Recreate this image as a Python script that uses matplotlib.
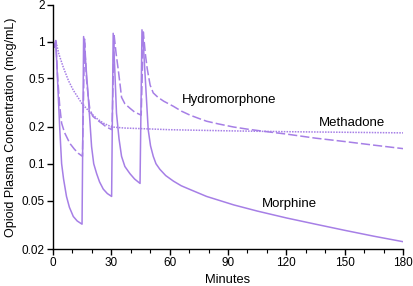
import matplotlib
matplotlib.use("Agg")
import matplotlib.pyplot as plt
from matplotlib.ticker import FixedLocator, NullFormatter, NullLocator

plt.rcParams["font.family"] = ["Liberation Sans", "DejaVu Sans"]

# ------------------------------------------------------------
# data (minutes, mcg/mL)
# ------------------------------------------------------------
morphine_t = [0.8, 1.5, 2.5, 3.5, 4.5, 5.5, 7, 8.5, 10.5, 12.5, 15.0,
              15.8, 16.8, 18.2, 19.9, 21, 22.5, 24, 25.9, 28, 30.2,
              31.0, 31.8, 32.7, 34, 35.3, 37, 39.6, 42, 44.8,
              45.8, 46.5, 47.5, 49, 50.2, 51.6, 53, 55, 58, 62, 66, 70, 79,
              93, 105, 120, 135, 150, 165, 180]
morphine_c = [0.9, 1.02, 0.45, 0.2, 0.1, 0.075, 0.054, 0.044, 0.037, 0.034, 0.032,
              1.1, 0.7, 0.35, 0.138, 0.1, 0.083, 0.071, 0.062, 0.057, 0.054,
              1.17, 0.6, 0.26, 0.16, 0.115, 0.095, 0.083, 0.075, 0.069,
              1.25, 0.95, 0.5, 0.19, 0.14, 0.115, 0.1, 0.09, 0.08, 0.072, 0.066, 0.062, 0.054,
              0.046, 0.041, 0.036, 0.032, 0.0285, 0.0255, 0.023]

hydro_t = [0.8, 1.5, 2.5, 3.5, 4.5, 6, 8.7, 11, 13, 15.2,
           16.3, 17.3, 18.2, 19, 20.5, 22.5, 25, 27.5, 30.4,
           31.5, 32.5, 33.6, 34.5, 35.3, 37, 39.6, 42, 45.4,
           46.5, 47.5, 48.5, 50, 51.6, 54, 57, 62, 66, 70.5, 75, 79,
           85, 92.8, 100, 110, 120, 135, 150, 165, 180]
hydro_c = [0.9, 1.0, 0.5, 0.3, 0.215, 0.18, 0.147, 0.132, 0.122, 0.115,
           1.05, 0.49, 0.35, 0.28, 0.245, 0.23, 0.215, 0.2, 0.19,
           1.12, 0.8, 0.59, 0.45, 0.35, 0.31, 0.285, 0.265, 0.25,
           1.2, 0.8, 0.6, 0.44, 0.38, 0.35, 0.325, 0.295, 0.27, 0.25, 0.235, 0.223,
           0.212, 0.2, 0.192, 0.183, 0.175, 0.162, 0.152, 0.142, 0.133]

methadone_t = [0.8, 1.5, 3, 5.3, 8, 10.5, 15, 18.5, 22.5, 26, 30.2, 37, 45,
               60, 90, 120, 150, 180]
methadone_c = [0.9, 1.02, 0.8, 0.62, 0.48, 0.4, 0.31, 0.27, 0.235, 0.215, 0.2,
               0.196, 0.194, 0.19, 0.186, 0.183, 0.181, 0.179]

y_ticks = [0.02, 0.05, 0.1, 0.2, 0.5, 1, 2]
y_tick_labels = ["0.02", "0.05", "0.1", "0.2", "0.5", "1", "2"]
x_ticks = [0, 30, 60, 90, 120, 150, 180]

COLOR = "#a67fe6"


def main():
    fig = plt.figure(figsize=(4.13, 2.86), dpi=100)
    ax = fig.add_axes([0.128, 0.129, 0.848, 0.854])

    ax.plot(morphine_t, morphine_c, color=COLOR, lw=1.1, solid_joinstyle="round")
    ax.plot(hydro_t, hydro_c, color=COLOR, lw=1.1, dashes=(6, 2))
    ax.plot(methadone_t, methadone_c, color=COLOR, lw=1.1, dashes=(1, 0.8))

    ax.set_yscale("log")
    ax.set_ylim(0.02, 2)
    ax.set_xlim(0, 180)

    ax.yaxis.set_major_locator(FixedLocator(y_ticks))
    ax.set_yticklabels(y_tick_labels)
    ax.yaxis.set_minor_locator(NullLocator())
    ax.yaxis.set_minor_formatter(NullFormatter())

    ax.set_xticks(x_ticks)
    ax.xaxis.set_minor_locator(FixedLocator(range(0, 181, 10)))

    for side in ("top", "right"):
        ax.spines[side].set_visible(False)
    for side in ("left", "bottom"):
        ax.spines[side].set_linewidth(1.0)
        ax.spines[side].set_clip_on(False)

    ax.tick_params(axis="both", which="major", direction="out", length=4,
                   width=1.0, labelsize=8.5, pad=2)
    ax.tick_params(axis="x", which="minor", direction="out", length=3, width=0.8)

    ax.set_xlabel("Minutes", fontsize=9.3, labelpad=3)
    ax.set_ylabel("Opioid Plasma Concentration (mcg/mL)", fontsize=9, labelpad=3)

    ax.text(90.5, 0.333, "Hydromorphone", fontsize=9.5, ha="center", va="center")
    ax.text(153.8, 0.216, "Methadone", fontsize=9.5, ha="center", va="center")
    ax.text(121.6, 0.047, "Morphine", fontsize=9.5, ha="center", va="center")

    fig.savefig("out.png", dpi=100)


if __name__ == "__main__":
    main()
